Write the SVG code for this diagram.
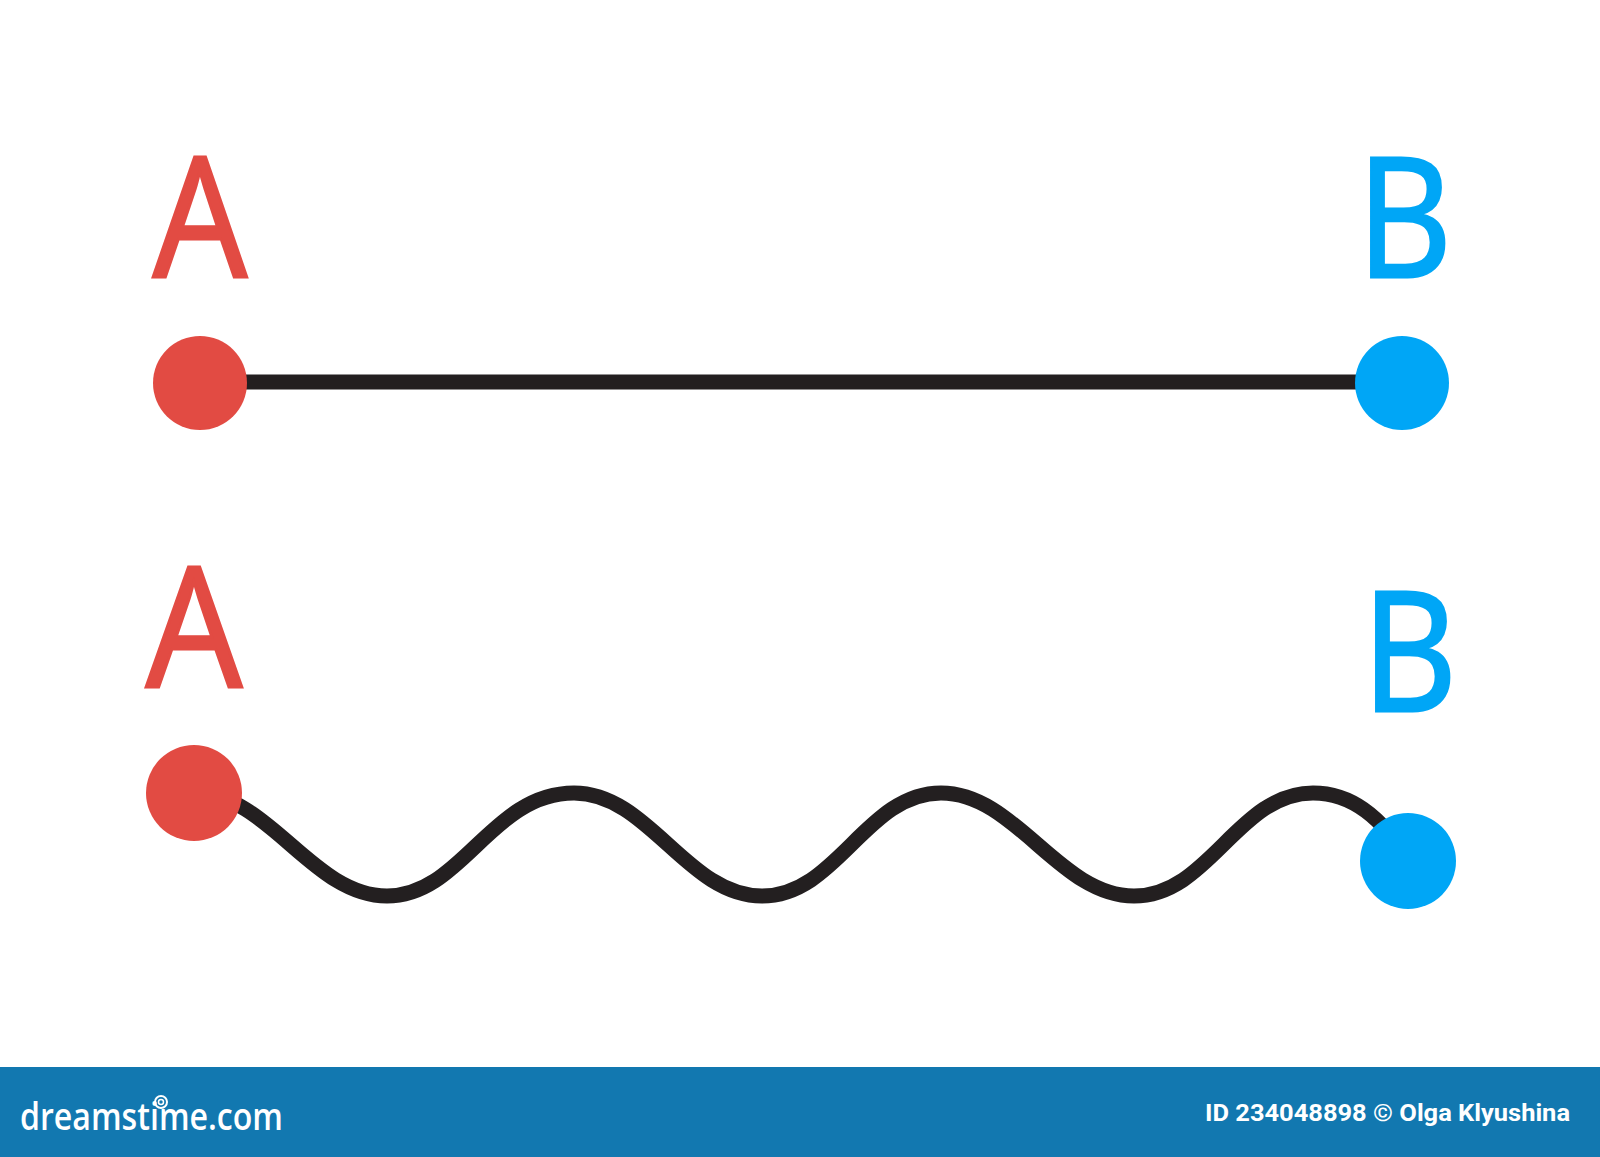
<svg xmlns="http://www.w3.org/2000/svg" width="1600" height="1157" viewBox="0 0 1600 1157">
  <style>
    .lblA { fill: #E24B43; stroke: #E24B43; stroke-width: 3; font-family: "Open Sans", "Liberation Sans", sans-serif; font-size: 166px; font-weight: 400; }
    .lblB { fill: #00A6F6; stroke: #00A6F6; stroke-width: 3; font-family: "Open Sans", "Liberation Sans", sans-serif; font-size: 166px; font-weight: 400; }
    .red { fill: #E24B43; }
    .blue { fill: #00A6F6; }
    .conn { fill: none; stroke: #231F20; stroke-width: 15; stroke-linecap: round; stroke-linejoin: round; }
    .foot { fill: #FFFFFF; }
  </style>
  <rect x="0" y="0" width="1600" height="1157" fill="#FFFFFF"/>

  <g id="connectors">
    <line class="conn" x1="200" y1="382" x2="1402" y2="382"/>
    <path class="conn" d="M194 793 C269 793 312 896 387 896 C462 896 491 793 574 793 C649 793 687 896 762 896 C837 896 866 793 941 793 C1016 793 1059 896 1134 896 C1209 896 1238 793 1313 793 C1360 793 1390 830 1408 861"/>
  </g>

  <g id="node-A1">
    <text class="lblA" x="153" y="277" textLength="94" lengthAdjust="spacingAndGlyphs">A</text>
    <circle class="red" cx="200" cy="383" r="47"/>
  </g>
  <g id="node-B1">
    <text class="lblB" x="1357" y="277" textLength="95" lengthAdjust="spacingAndGlyphs">B</text>
    <circle class="blue" cx="1402" cy="383" r="47"/>
  </g>
  <g id="node-A2">
    <text class="lblA" x="146" y="687" textLength="96" lengthAdjust="spacingAndGlyphs">A</text>
    <circle class="red" cx="194" cy="793" r="48"/>
  </g>
  <g id="node-B2">
    <text class="lblB" x="1362" y="711" textLength="95" lengthAdjust="spacingAndGlyphs">B</text>
    <circle class="blue" cx="1408" cy="861" r="48"/>
  </g>

  <g id="footer">
    <rect x="0" y="1067" width="1600" height="90" fill="#1278B0"/>
    <text class="foot" x="20" y="1130" font-family="'Open Sans', 'Liberation Sans', sans-serif" font-size="38" font-weight="600" textLength="263" lengthAdjust="spacingAndGlyphs">dreamstime.com</text>
    <circle cx="161" cy="1102" r="6" fill="none" stroke="#FFFFFF" stroke-width="2"/>
    <circle cx="161" cy="1102" r="2.5" fill="none" stroke="#FFFFFF" stroke-width="1.5"/>
    <text class="foot" x="1205" y="1121" font-family="Roboto, 'Liberation Sans', sans-serif" font-weight="bold" font-size="24" textLength="365" lengthAdjust="spacingAndGlyphs">ID 234048898 © Olga Klyushina</text>
  </g>
</svg>
